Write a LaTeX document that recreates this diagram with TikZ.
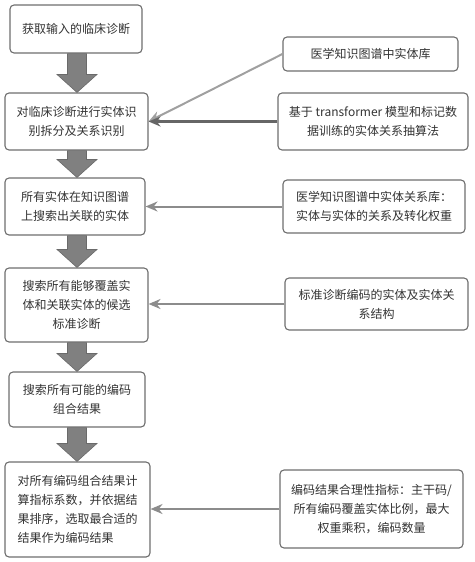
\documentclass[tikz,border=0pt]{standalone}
\usepackage{fontspec}
\setmainfont{Noto Sans CJK SC}
\usetikzlibrary{calc,arrows.meta}
\definecolor{txt}{HTML}{333333}
\definecolor{boxedge}{HTML}{6E6E6E}
\definecolor{arrfill}{HTML}{808080}
\definecolor{arredge}{HTML}{6A6A6A}
\definecolor{lnlight}{HTML}{A0A0A0}
\definecolor{lndark}{HTML}{666666}
\definecolor{lnmid}{HTML}{8C8C8C}
\tikzset{
  box/.style={draw=boxedge, line width=1.1pt, rounded corners=4pt, fill=white,
    text=txt, align=center, inner sep=0pt, font=\fontsize{12}{19}\selectfont},
  conn/.style={line width=2pt, -{Stealth[length=12pt,width=10pt]}},
  blockarrow/.style={fill=arrfill, draw=arredge, line width=0.6pt},
}
\newcommand{\blockarr}[2]{%
  \draw[blockarrow] let \p1=(#1.south), \p2=(#2.north) in
    ({77pt-9.5pt},\y1) -- ({77pt+9.5pt},\y1) -- ({77pt+9.5pt},{\y2+18pt}) --
    ({77pt+20pt},{\y2+18pt}) -- (77pt,\y2) -- ({77pt-20pt},{\y2+18pt}) --
    ({77pt-9.5pt},{\y2+18pt}) -- cycle;}
\begin{document}
\begin{tikzpicture}[x=1pt,y=-1pt]
\useasboundingbox (0,0) rectangle (474,562);
% left column
\node[box, minimum width=132pt, minimum height=48pt] (b1) at (76,29) {获取输入的临床诊断};
\node[box, minimum width=143pt, minimum height=57pt] (b2) at (76.5,121.5) {对临床诊断进行实体识\\别拆分及关系识别};
\node[box, minimum width=140pt, minimum height=57pt] (b3) at (75,206.5) {所有实体在知识图谱\\上搜索出关联的实体};
\node[box, minimum width=143pt, minimum height=74pt] (b4) at (76.5,305) {搜索所有能够覆盖实\\体和关联实体的候选\\标准诊断};
\node[box, minimum width=136pt, minimum height=55pt] (b5) at (77,399.5) {搜索所有可能的编码\\组合结果};
\node[box, minimum width=145pt, minimum height=95pt, align=left] (b6) at (77.5,509.5) {对所有编码组合结果计\\算指标系数，并依据结\\果排序，选取最合适的\\结果作为编码结果};
% right column
\node[box, minimum width=175pt, minimum height=34pt] (r1) at (370.5,54) {医学知识图谱中实体库};
\node[box, minimum width=190pt, minimum height=57pt] (r2) at (373,121.5) {基于 transformer 模型和标记数\\据训练的实体关系抽算法};
\node[box, minimum width=182pt, minimum height=53pt] (r3) at (374,206.5) {医学知识图谱中实体关系库：\\实体与实体的关系及转化权重};
\node[box, minimum width=183pt, minimum height=52pt] (r4) at (376.5,304) {标准诊断编码的实体及实体关\\系结构};
\node[box, minimum width=183pt, minimum height=78pt] (r5) at (371.5,509) {编码结果合理性指标：主干码/\\所有编码覆盖实体比例，最大\\权重乘积，编码数量};
% block arrows
\blockarr{b1}{b2}
\blockarr{b2}{b3}
\blockarr{b3}{b4}
\blockarr{b4}{b5}
\blockarr{b5}{b6}
% connectors
\draw[conn, draw=lnlight, fill=lnlight] (r1.west) -- (b2.east);
\draw[conn, draw=lndark, fill=lndark, line width=2.5pt] (r2.west) -- (b2.east);
\draw[conn, draw=lnmid, fill=lnmid] (r3.west) -- (r3.west -| b3.east);
\draw[conn, draw=lnmid, fill=lnmid] (r4.west) -- (r4.west -| b4.east);
\draw[conn, draw=lnmid, fill=lnmid] (r5.west) -- (r5.west -| b6.east);
\end{tikzpicture}
\end{document}
